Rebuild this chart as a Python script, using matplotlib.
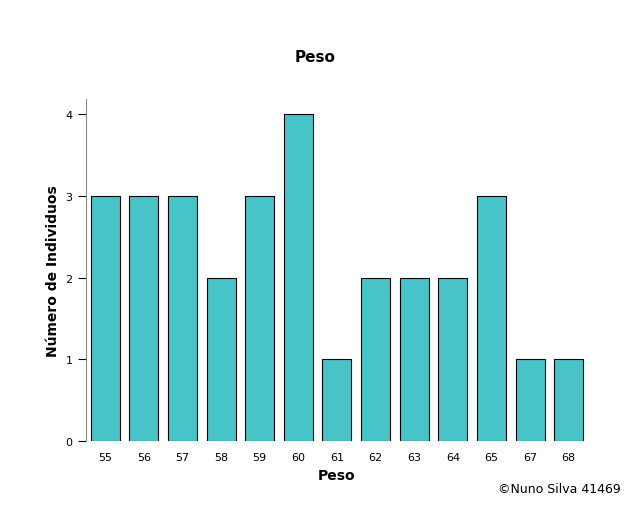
import matplotlib
matplotlib.use("Agg")
import matplotlib.pyplot as plt

categories = ["55","56","57","58","59","60","61","62","63","64","65","67","68"]
counts = [3,3,3,2,3,4,1,2,2,2,3,1,1]

fig = plt.figure(figsize=(6.31,5.06), dpi=100)
ax = fig.add_axes([0.136, 0.126, 0.796, 0.676])
x = range(len(categories))
ax.bar(x, counts, width=0.75, color="#48C4C8", edgecolor="black", linewidth=0.8)
ax.set_xlim(-0.5, len(categories)-0.5)
ax.set_ylim(0, 4.18)
ax.set_xticks(list(x))
ax.set_xticklabels(categories, fontsize=8)
ax.set_yticks([0,1,2,3,4])
ax.tick_params(axis='y', labelsize=8, length=6, direction='out')
ax.tick_params(axis='x', length=0, pad=8)
for s in ["top","right","bottom"]:
    ax.spines[s].set_visible(False)
ax.spines["left"].set_color("#888888")
ax.set_xlabel("Peso", fontsize=10, fontweight="bold")
ax.set_ylabel("Número de Individuos", fontsize=10, fontweight="bold")
fig.text(0.5, 0.887, "Peso", ha="center", va="center", fontsize=11, fontweight="bold")
fig.text(0.983, 0.033, "©Nuno Silva 41469", ha="right", va="center", fontsize=9)
fig.savefig("out.png", dpi=100)
